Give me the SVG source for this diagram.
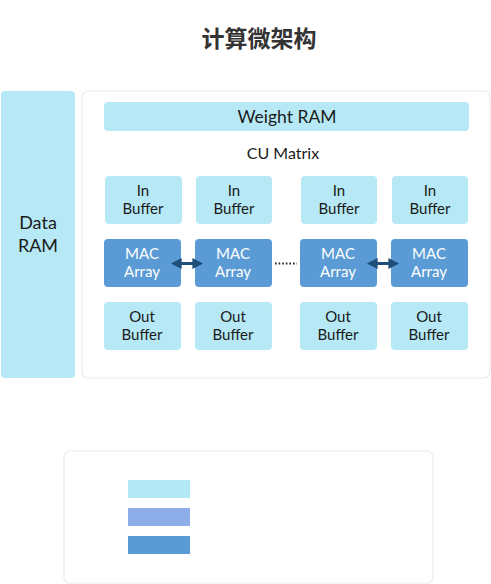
<svg xmlns="http://www.w3.org/2000/svg" width="491" height="584" viewBox="0 0 491 584">
<defs>
<style>
.t{font-family:"Lato","Noto Sans",sans-serif;font-size:15px;fill:#1a1a1a;text-anchor:middle}
.w{fill:#ffffff}
.lb{fill:#b6e9f5}
.mac{fill:#5b9bd5}
.panel{fill:#ffffff;stroke:#ececec;stroke-width:1.2}
.arr{stroke:#1f4e79;stroke-width:3;fill:none;marker-start:url(#ah);marker-end:url(#ah)}
</style>
<marker id="ah" viewBox="0 0 10 10" refX="8" refY="5" markerWidth="3.6" markerHeight="3.6" orient="auto-start-reverse">
<path d="M0,0 L10,5 L0,10 z" fill="#1f4e79"/>
</marker>
</defs>
<rect width="491" height="584" fill="#ffffff"/>
<text x="259" y="47" style="font-family:'Noto Sans CJK SC',sans-serif;font-size:23px;font-weight:bold;fill:#333;text-anchor:middle">计算微架构</text>

<g id="data-ram">
<rect class="lb" x="1" y="91" width="74" height="287" rx="4"/>
<text class="t" x="38" y="229" style="font-size:18px">Data</text>
<text class="t" x="38" y="252" style="font-size:18px">RAM</text>
</g>
<g id="cu-panel">
<rect class="panel" x="82" y="91" width="408" height="287" rx="6"/>
<text class="t" x="283" y="159" style="font-size:16px">CU Matrix</text>
</g>
<g id="weight-ram">
<rect class="lb" x="104" y="102" width="365" height="29" rx="4"/>
<text class="t" x="287" y="123" style="font-size:17.5px">Weight RAM</text>
</g>

<g id="in1"><rect class="lb" x="105" y="176" width="77" height="48" rx="4"/><text class="t" x="143" y="196">In</text><text class="t" x="143" y="214">Buffer</text></g>
<g id="in2"><rect class="lb" x="196" y="176" width="76" height="48" rx="4"/><text class="t" x="234" y="196">In</text><text class="t" x="234" y="214">Buffer</text></g>
<g id="in3"><rect class="lb" x="301" y="176" width="76" height="48" rx="4"/><text class="t" x="339" y="196">In</text><text class="t" x="339" y="214">Buffer</text></g>
<g id="in4"><rect class="lb" x="392" y="176" width="76" height="48" rx="4"/><text class="t" x="430" y="196">In</text><text class="t" x="430" y="214">Buffer</text></g>

<g id="mac1"><rect class="mac" x="104" y="239" width="77" height="48" rx="4"/><text class="t w" x="142" y="259">MAC</text><text class="t w" x="142" y="277">Array</text></g>
<g id="mac2"><rect class="mac" x="195" y="239" width="77" height="48" rx="4"/><text class="t w" x="233" y="259">MAC</text><text class="t w" x="233" y="277">Array</text></g>
<g id="mac3"><rect class="mac" x="300" y="239" width="77" height="48" rx="4"/><text class="t w" x="338" y="259">MAC</text><text class="t w" x="338" y="277">Array</text></g>
<g id="mac4"><rect class="mac" x="391" y="239" width="77" height="48" rx="4"/><text class="t w" x="429" y="259">MAC</text><text class="t w" x="429" y="277">Array</text></g>

<g id="out1"><rect class="lb" x="104" y="302" width="77" height="48" rx="4"/><text class="t" x="142" y="322">Out</text><text class="t" x="142" y="340">Buffer</text></g>
<g id="out2"><rect class="lb" x="195" y="302" width="77" height="48" rx="4"/><text class="t" x="233" y="322">Out</text><text class="t" x="233" y="340">Buffer</text></g>
<g id="out3"><rect class="lb" x="300" y="302" width="77" height="48" rx="4"/><text class="t" x="338" y="322">Out</text><text class="t" x="338" y="340">Buffer</text></g>
<g id="out4"><rect class="lb" x="391" y="302" width="77" height="48" rx="4"/><text class="t" x="429" y="322">Out</text><text class="t" x="429" y="340">Buffer</text></g>

<g id="connectors">
<line class="arr" x1="173" y1="263.5" x2="201" y2="263.5"/>
<line class="arr" x1="369" y1="263.5" x2="397" y2="263.5"/>
<line x1="275" y1="263.5" x2="297" y2="263.5" stroke="#222" stroke-width="2" stroke-dasharray="1.6 2"/>
</g>

<g id="legend">
<rect class="panel" x="64" y="451" width="369" height="132" rx="6"/>
<rect x="128" y="480" width="62" height="18" fill="#b3e8f5"/>
<rect x="128" y="508" width="62" height="18" fill="#8eaeea"/>
<rect x="128" y="536" width="62" height="18" fill="#5b9bd5"/>
</g>
</svg>
